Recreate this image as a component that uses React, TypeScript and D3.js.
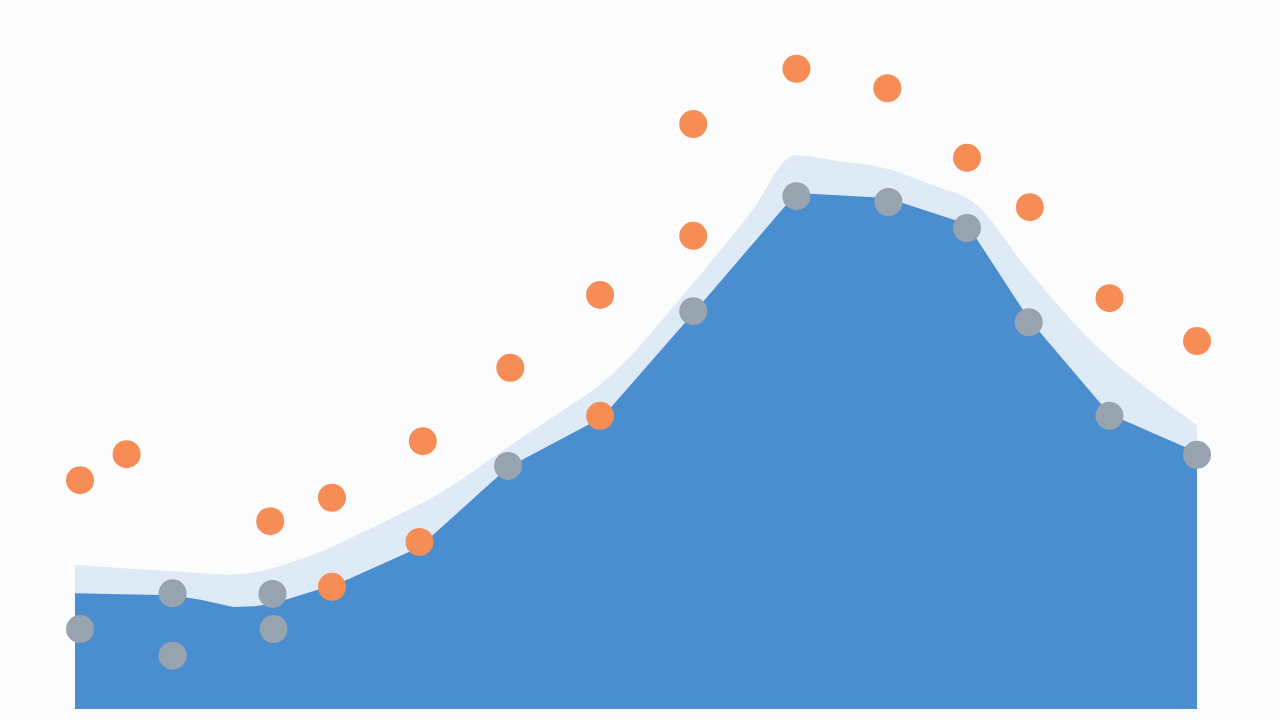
import React from "react";
import * as d3 from "d3";

const W = 1280;
const H = 720;

// area (mean) series
const meanX = [0, 8.7, 11.2, 14.1, 16.0, 17.6, 23.6, 30.7, 38.6, 47.0, 55.1, 64.3, 72.4, 79.5, 85.1, 92.2, 100];
const meanY = [17.8, 17.5, 16.8, 15.7, 15.8, 16.2, 19.4, 24.9, 37.2, 44.9, 60.9, 79.4, 78.6, 74.6, 59.8, 45.4, 39.5];

// upper band
const bandX = [0, 8.7, 14.0, 20.7, 26.6, 32.5, 38.5, 43.2, 47.0, 49.2, 52.1, 55.1, 60.2, 64.2, 68.0, 71.7, 77.1, 79.8, 85.1, 91.4, 94.9, 100];
const bandY = [22.2, 21.2, 20.7, 23.4, 28.0, 33.2, 40.2, 45.6, 50.2, 53.7, 59.4, 65.5, 76.3, 85.2, 84.3, 83.4, 80.2, 78.3, 67.2, 55.2, 50.2, 43.7];

// orange observations
const orangeX = [0.45, 4.6, 17.4, 22.9, 22.9, 31.0, 30.7, 38.8, 46.8, 46.8, 55.1, 55.1, 64.3, 72.4, 79.5, 85.1, 92.2, 100];
const orangeY = [35.2, 39.2, 28.9, 32.5, 18.8, 41.2, 25.7, 52.5, 63.7, 45.1, 90.0, 72.8, 98.5, 95.5, 84.8, 77.2, 63.2, 56.6];

// gray observations
const grayX = [0.45, 8.7, 8.7, 17.6, 17.7, 38.6, 55.1, 64.3, 72.5, 79.5, 85.0, 92.2, 100];
const grayY = [12.3, 17.8, 8.2, 17.7, 12.3, 37.4, 61.2, 78.9, 78.0, 74.0, 59.5, 45.1, 39.1];

export default function App() {
  const x = d3.scaleLinear().domain([0, 100]).range([75, 1197]);
  const y = d3.scaleLinear().domain([0, 100]).range([709, 59]);

  const bandPts = bandX.map((v, i) => [v, bandY[i]] as [number, number]);
  const meanPts = meanX.map((v, i) => [v, meanY[i]] as [number, number]);

  const bandArea = d3
    .area<[number, number]>()
    .x((d) => x(d[0]))
    .y0(y(0))
    .y1((d) => y(d[1]))
    .curve(d3.curveMonotoneX);

  const meanArea = d3
    .area<[number, number]>()
    .x((d) => x(d[0]))
    .y0(y(0))
    .y1((d) => y(d[1]))
    .curve(d3.curveLinear);

  return (
    <svg
      width={W}
      height={H}
      style={{ position: "fixed", left: 0, top: 0, display: "block", background: "#fcfcfc" }}
    >
      <rect x={0} y={0} width={W} height={H} fill="#fcfcfc" />
      <path d={bandArea(bandPts) || ""} fill="#deeaf6" />
      <path d={meanArea(meanPts) || ""} fill="#4a8ecf" />
      {grayX.map((v, i) => (
        <circle key={"g" + i} cx={x(v)} cy={y(grayY[i])} r={14} fill="#97a3af" />
      ))}
      {orangeX.map((v, i) => (
        <circle key={"o" + i} cx={x(v)} cy={y(orangeY[i])} r={14} fill="#f68d56" />
      ))}
    </svg>
  );
}
